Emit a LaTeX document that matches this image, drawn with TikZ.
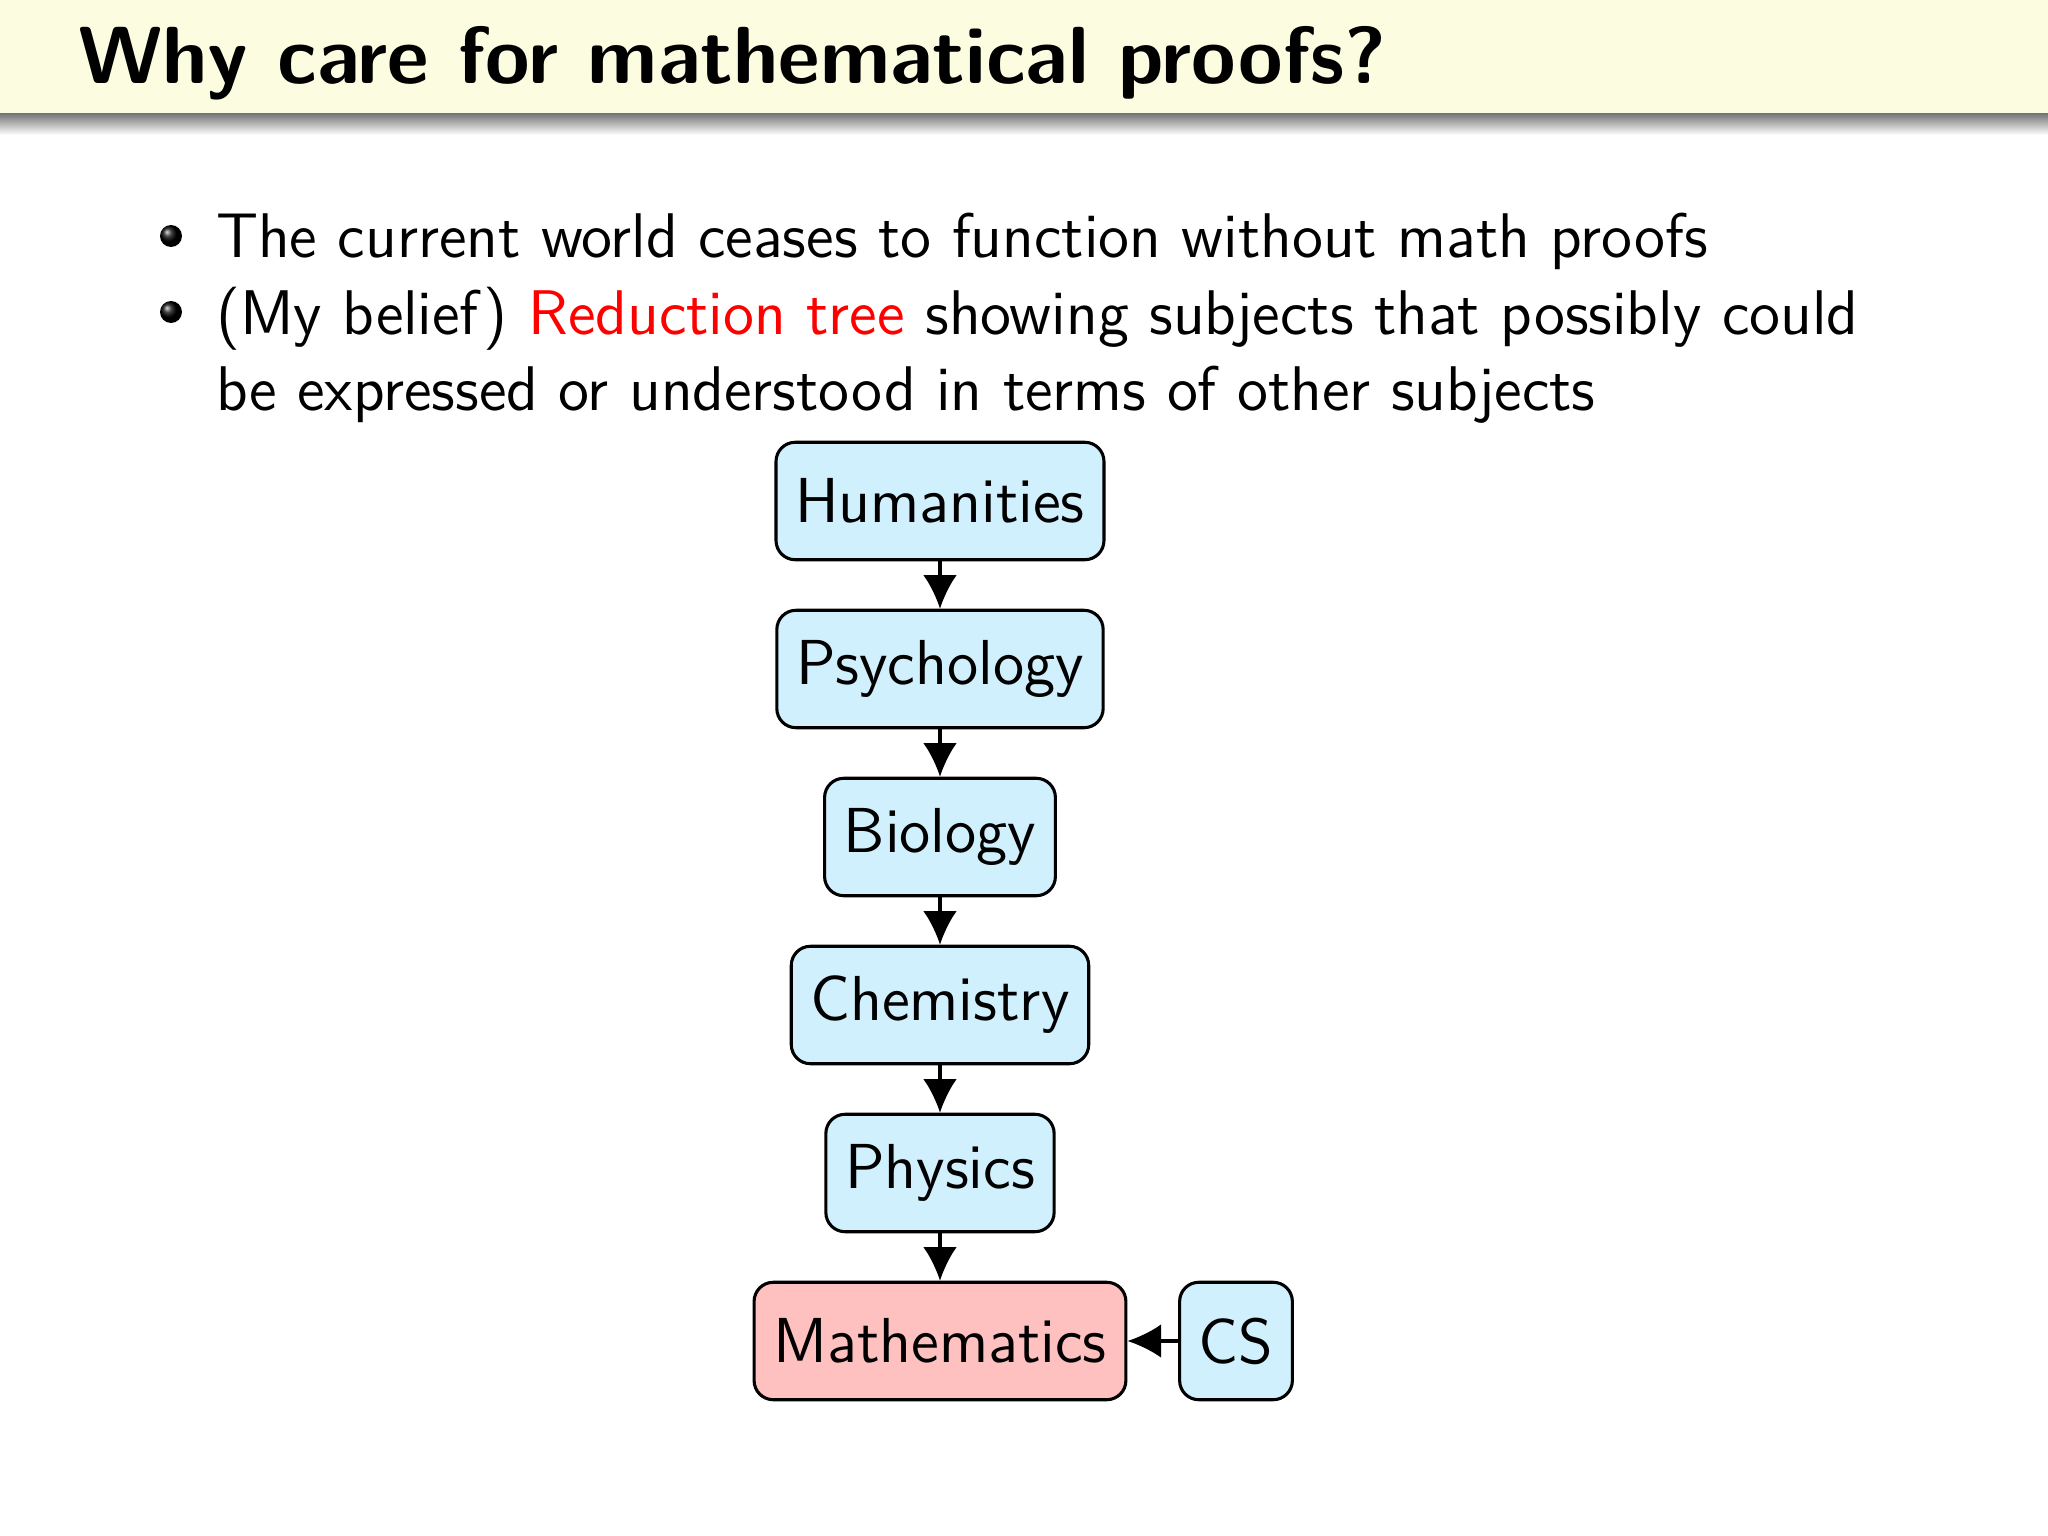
\documentclass[tikz,border=0pt]{standalone}
\usepackage{fontspec}
\usetikzlibrary{arrows.meta}
\renewcommand\familydefault{\sfdefault}
\definecolor{boxblue}{RGB}{207,240,252}
\definecolor{boxpink}{RGB}{255,192,192}
\definecolor{titlebg}{RGB}{251,252,224}
\begin{document}
\begin{tikzpicture}[x=0.0625mm,y=-0.0625mm,
  subj/.style={draw=black, line width=0.55pt, rounded corners=1.2mm, fill=boxblue,
    minimum height=7.34mm, inner xsep=1.2mm, font=\fontsize{11.3}{13}\selectfont},
  arr/.style={-{Latex[length=2.1mm,width=2.1mm]}, line width=0.55pt},
  txt/.style={anchor=base west, inner sep=0pt, font=\fontsize{11.22}{13}\selectfont},
  bul/.style={ball color=black}]
\useasboundingbox (0,0) rectangle (2048,1536);
\fill[white] (0,0) rectangle (2048,1536);
\fill[titlebg] (0,0) rectangle (2048,113);
\shade[top color=black!55, bottom color=white] (0,113) rectangle (2048,135);
\node[anchor=base west, inner sep=0pt, font=\fontsize{14.4}{17}\selectfont\bfseries] (title) at (77,83) {Why care for mathematical proofs?};
\shade[bul] (171,236) circle (11);
\shade[bul] (171,312) circle (11);
\node[txt] (l1) at (215,257) {The current world ceases to function without math proofs};
\node[txt] (l2) at (215,334) {(My belief) \textcolor{red}{Reduction tree} showing subjects that possibly could};
\node[txt] (l3) at (215,410) {be expressed or understood in terms of other subjects};
\node[subj] (hum) at (940,501) {Humanities};
\node[subj] (psy) at (940,669) {Psychology};
\node[subj] (bio) at (940,837) {Biology};
\node[subj] (che) at (940,1005) {Chemistry};
\node[subj] (phy) at (940,1173) {Physics};
\node[subj, fill=boxpink] (mat) at (940,1341) {Mathematics};
\node[subj] (cs) at (1236,1341) {CS};
\draw[arr] (hum) -- (psy);
\draw[arr] (psy) -- (bio);
\draw[arr] (bio) -- (che);
\draw[arr] (che) -- (phy);
\draw[arr] (phy) -- (mat);
\draw[arr] (cs) -- (mat);
\end{tikzpicture}
\end{document}
